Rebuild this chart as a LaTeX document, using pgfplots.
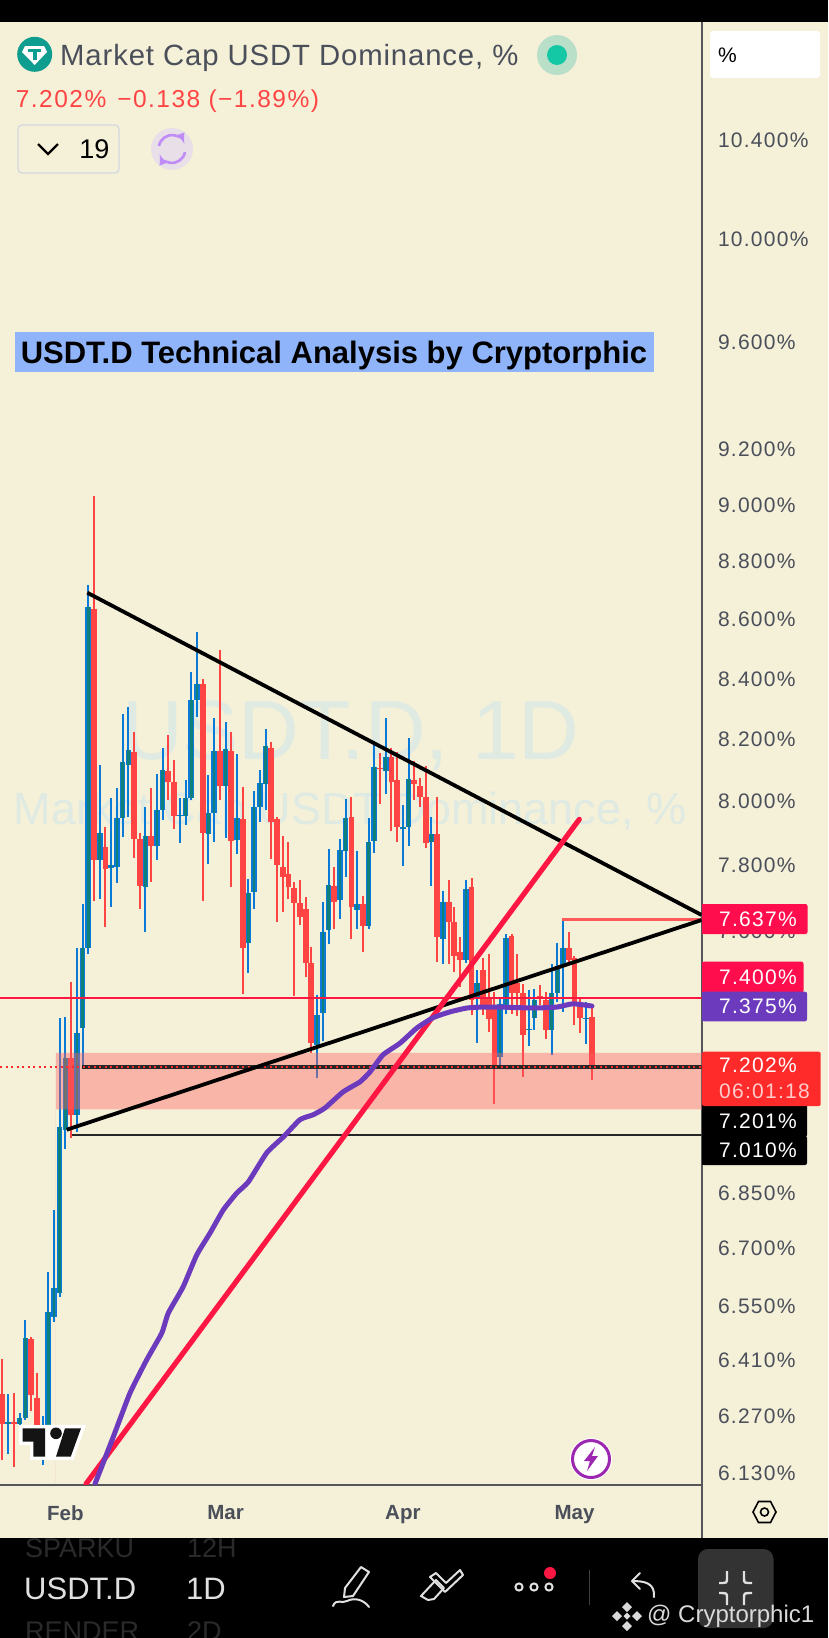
\documentclass[border=0pt]{standalone}
\usepackage{fontspec}
\usepackage{pgfplots}
\usepackage{pgfplotstable}
\pgfplotsset{compat=1.18}
\setmainfont{Liberation Sans}
\newfontfamily\tvfont[LetterSpace=6]{Liberation Sans}
\newfontfamily\tvtitle[LetterSpace=3]{Liberation Sans}

\definecolor{chartbg}{HTML}{F5F0D8}
\definecolor{tvblue}{HTML}{0A7AD8}
\definecolor{tvteal}{HTML}{0F7F7A}
\definecolor{tvred}{HTML}{FF4444}
\definecolor{lineRed}{HTML}{FF1744}
\definecolor{emaPurple}{HTML}{6C3BBD}
\definecolor{scaleGrey}{HTML}{4A4F5A}
\definecolor{axisGrey}{HTML}{55565A}
\definecolor{markBg}{HTML}{DFEAE3}
\definecolor{zoneRed}{HTML}{FF5F60}
\definecolor{tagRed}{HTML}{FF0D4D}
\definecolor{lastRed}{HTML}{FF2A2A}
\definecolor{banner}{HTML}{8FB4F9}
\definecolor{ghost}{HTML}{2A2A2A}
\definecolor{tether}{HTML}{0E9D8E}

% day (Feb 1 = 0), low, body bottom, body top, high in %
\pgfplotstableread{
d low bot top high
-9 6.175 6.251 6.254 6.324
-7 6.247 6.250 6.265 6.277
-6 6.260 6.265 6.466 6.513
-3 6.149 6.230 6.235 6.270
-2 6.247 6.247 6.534 6.639
-1 6.508 6.521 6.597 6.804
0 6.573 6.583 7.032 7.343
1 6.971 7.024 7.227 7.346
3 7.018 7.066 7.299 7.550
4 7.201 7.314 7.550 7.683
5 7.532 7.550 8.644 8.717
7 7.698 7.818 7.902 8.118
9 7.674 7.793 7.803 8.013
10 7.747 7.796 7.950 8.045
11 7.890 7.950 8.128 8.285
12 7.953 8.118 8.167 8.307
15 7.598 7.735 7.893 7.984
17 7.818 7.861 7.975 8.090
18 7.943 7.975 8.103 8.173
21 7.871 7.956 7.959 8.013
22 7.928 7.956 8.013 8.070
23 8.006 8.013 8.330 8.424
24 8.275 8.330 8.384 8.559
26 7.806 7.899 7.965 8.086
27 7.875 7.965 8.163 8.272
29 7.887 8.051 8.170 8.258
31 7.837 7.880 7.950 8.154
33 7.475 7.565 7.716 7.760
34 7.667 7.719 7.984 8.035
35 7.937 7.984 8.061 8.102
36 7.975 8.058 8.180 8.235
45 7.170 7.265 7.352 7.410
46 7.276 7.358 7.598 7.689
47 7.560 7.604 7.741 7.852
49 7.637 7.695 7.849 7.884
50 7.766 7.846 7.950 8.009
52 7.607 7.665 7.683 7.846
54 7.607 7.616 7.875 7.950
55 7.840 7.877 8.112 8.196
57 8.025 8.099 8.144 8.272
60 7.800 7.915 7.921 7.990
61 7.861 7.921 8.074 8.206
65 7.738 7.875 7.899 7.953
67 7.502 7.578 7.689 7.722
71 7.505 7.514 7.729 7.756
73 7.270 7.401 7.446 7.484
77 7.195 7.230 7.384 7.404
78 7.355 7.381 7.580 7.592
82 7.262 7.308 7.311 7.425
83 7.308 7.343 7.395 7.428
86 7.236 7.308 7.416 7.502
87 7.389 7.416 7.496 7.565
88 7.360 7.499 7.550 7.640
92 7.268 7.340 7.343 7.389
}\upcandles

\pgfplotstableread{
d low bot top high
-10 6.161 6.250 6.324 6.413
-8 6.144 6.251 6.254 6.327
-5 6.282 6.322 6.464 6.469
-4 6.235 6.247 6.314 6.378
2 7.001 7.066 7.227 7.449
6 7.692 7.818 8.637 9.033
8 7.613 7.790 7.858 7.921
13 7.824 7.884 8.160 8.226
14 7.667 7.738 7.884 7.902
16 7.750 7.861 7.893 8.045
19 8.006 8.064 8.099 8.216
20 7.915 7.956 8.064 8.135
25 7.692 7.902 8.384 8.400
28 8.006 8.051 8.163 8.497
30 7.735 7.877 8.163 8.226
32 7.413 7.550 7.946 8.048
37 7.821 7.937 8.173 8.192
38 7.628 7.803 7.946 7.953
39 7.658 7.766 7.796 7.893
40 7.698 7.735 7.775 7.875
41 7.407 7.686 7.732 7.750
42 7.619 7.643 7.686 7.756
43 7.463 7.505 7.667 7.704
44 7.241 7.270 7.505 7.553
48 7.607 7.689 7.738 7.796
51 7.577 7.674 7.953 8.016
53 7.538 7.616 7.683 7.707
56 7.994 8.106 8.109 8.157
58 7.909 8.064 8.144 8.173
59 7.875 7.921 8.070 8.160
62 8.006 8.058 8.070 8.131
63 7.984 8.016 8.051 8.077
64 7.855 7.871 8.016 8.115
66 7.508 7.584 7.899 8.016
68 7.502 7.628 7.689 7.756
69 7.478 7.526 7.628 7.674
70 7.434 7.514 7.538 7.583
72 7.352 7.395 7.735 7.763
74 7.352 7.375 7.484 7.520
75 7.302 7.340 7.402 7.532
76 7.096 7.201 7.372 7.419
79 7.355 7.416 7.585 7.592
80 7.349 7.416 7.446 7.532
81 7.173 7.294 7.416 7.443
84 7.381 7.404 7.407 7.440
85 7.282 7.308 7.395 7.419
89 7.499 7.514 7.550 7.599
90 7.323 7.389 7.520 7.526
91 7.299 7.343 7.386 7.401
93 7.165 7.202 7.346 7.381
}\downcandles

% wick from low to high, drawn as an error bar on the body top
\newcommand{\wicks}[2]{%
  \addplot[forget plot, draw=none, mark=none, error bars/.cd, y dir=both, y explicit,
    error mark=none, error bar style={draw=#2, line width=2pt}]
    table[x=d, y=top, y error plus expr=\thisrow{high}-\thisrow{top},
      y error minus expr=\thisrow{top}-\thisrow{low}] {#1};}
% candle body from bot to top
\newcommand{\bodies}[3]{%
  \addplot[forget plot, draw=none, mark=none, error bars/.cd, y dir=minus, y explicit,
    error mark=none, error bar style={draw=#2, line width=#3}]
    table[x=d, y=top, y error minus expr=\thisrow{top}-\thisrow{bot}] {#1};}

\newcommand{\pricetag}[5]{% right, top, bottom, colour, text
  \fill[#4, rounded corners=2pt] (702,#2) rectangle (#1,#3);
  \fill[#4] (702,#2) rectangle (710,#3);
  \node[anchor=west, inner sep=0pt, text=white, font=\tvfont\fontsize{21}{24}\selectfont]
    at (719,{(#2+#3)/2}) {#5};}

\begin{document}
\begin{tikzpicture}
\begin{scope}[x=1pt, y=-1pt]
  \fill[chartbg] (0,0) rectangle (828,1638);
  \fill[black] (0,0) rectangle (828,22);
  \fill[black] (0,1538) rectangle (828,1638);
  % watermark
  \node[inner sep=0pt, text=markBg, anchor=center] at (351,736)
    {\fontsize{84}{90}\selectfont USDT.D, 1D};
  \node[inner sep=0pt, text=markBg, anchor=center] at (350,813)
    {\fontsize{45}{50}\selectfont Market Cap USDT Dominance, \%};
\end{scope}

\begin{axis}[
    at={(0pt,-1485pt)}, anchor=south west,
    scale only axis, width=701.7pt, height=1463pt,
    ymode=log, xmin=-10.437, xmax=112.24, ymin=6.1005, ymax=10.9017,
    axis x line=bottom, axis y line=right,
    axis line style={draw=axisGrey, line width=1.8pt, -},
    tick style={draw=none}, minor tick num=0,
    unbounded coords=jump,
    xtick={1,29,60,90}, xticklabels={Feb,Mar,Apr,May},
    xticklabel style={font=\bfseries\fontsize{20.5}{24}\selectfont, text=scaleGrey, yshift=-15pt},
    ytick={6.13,6.27,6.41,6.55,6.7,6.85,7.6,7.8,8,8.2,8.4,8.6,8.8,9,9.2,9.6,10,10.4},
    yticklabels={6.130\%,6.270\%,6.410\%,6.550\%,6.700\%,6.850\%,7.600\%,7.800\%,8.000\%,8.200\%,8.400\%,8.600\%,8.800\%,9.000\%,9.200\%,9.600\%,10.000\%,10.400\%},
    yticklabel style={font=\tvfont\fontsize{21}{24}\selectfont, text=scaleGrey, anchor=west, inner sep=0pt, xshift=14pt},
  ]
  % candles
  \wicks{\upcandles}{tvblue}
  \wicks{\downcandles}{tvred}
  \bodies{\upcandles}{tvblue}{5.6pt}
  \bodies{\upcandles}{tvteal}{2.6pt}
  \bodies{\downcandles}{tvred}{5.8pt}

  % demand zone
  \addplot[forget plot, draw=none, fill=zoneRed, fill opacity=0.4]
    coordinates {(-0.65,7.242) (112.24,7.242) (112.24,7.0815) (-0.65,7.0815)} \closedcycle;

  % levels
  \addplot[forget plot, lineRed, line width=2pt] coordinates {(-10.437,7.4) (112.24,7.4)};
  \addplot[forget plot, black!85, line width=4pt] coordinates {(3.85,7.202) (112.24,7.202)};
  \addplot[forget plot, lastRed, line width=1.6pt, dash pattern=on 2pt off 3.5pt] coordinates {(-10.437,7.202) (112.24,7.202)};
  \addplot[forget plot, black!85, line width=1.7pt] coordinates {(2.1,7.01) (112.24,7.01)};
  \addplot[forget plot, color={rgb,255:red,255;green,90;blue,90}, line width=3pt] coordinates {(87.76,7.637) (112.24,7.637)};

  % trend lines
  \addplot[forget plot, black, line width=3.8pt] coordinates {(4.83,8.692) (112.24,7.649)};
  \addplot[forget plot, black, line width=3.8pt] coordinates {(1.22,7.024) (112.24,7.634)};
  \addplot[forget plot, lineRed, line width=5.2pt, line cap=round] coordinates {(4.6,6.103) (90.84,7.945)};

  % moving average
  \addplot[forget plot, emaPurple, line width=5pt, smooth, tension=0.3, line cap=round] coordinates {
    (6.17,6.103) (9.37,6.218) (12.29,6.327) (15.21,6.411) (17.83,6.479) (18.99,6.531)
    (21.56,6.599) (23.95,6.683) (26.28,6.742) (28.6,6.804) (30.94,6.849) (32.97,6.880)
    (36.19,6.960) (39.09,7.004) (42.01,7.052) (44.28,7.066) (46.38,7.085) (49.53,7.130)
    (52.5,7.159) (54.25,7.187) (56.52,7.236) (59.49,7.270) (62.46,7.314) (65.26,7.343)
    (68.23,7.361) (71.2,7.372) (74.0,7.375) (76.97,7.375) (82.74,7.372) (86.93,7.375)
    (89.74,7.384) (93.06,7.378)};
\end{axis}

\begin{scope}[x=1pt, y=-1pt]
  \draw[axisGrey, line width=1.8pt] (702,1485) -- (702,1538);

  % price tags
  \pricetag{807.5}{904}{934}{tagRed}{7.637\%}
  \pricetag{803.5}{961.7}{992.5}{tagRed}{7.400\%}
  \pricetag{807}{991.7}{1021.3}{emaPurple}{7.375\%}
  \pricetag{807}{1100}{1137}{black}{}
  \pricetag{807}{1136}{1165}{black}{7.010\%}
  \fill[lastRed, rounded corners=2pt] (702,1051.7) rectangle (820.7,1106);
  \node[anchor=west, inner sep=0pt, text=white, font=\tvfont\fontsize{21}{24}\selectfont] at (719,1065.5) {7.202\%};
  \node[anchor=west, inner sep=0pt, text=white!75!lastRed, font=\tvfont\fontsize{21}{24}\selectfont] at (719,1091) {06:01:18};
  \node[anchor=west, inner sep=0pt, text=white, font=\tvfont\fontsize{21}{24}\selectfont] at (719,1121.4) {7.201\%};

  % header
  \fill[white, rounded corners=3pt] (710,31) rectangle (820,78);
  \node[anchor=west, inner sep=0pt, text=black, font=\fontsize{21}{24}\selectfont] at (718,55) {\%};
  \fill[tether] (34.7,54.3) circle (17.5);
  \fill[white] (25,46) -- (44,46) -- (47,52) -- (34.7,65) -- (22,52) -- cycle;
  \fill[tether] (28,49) rectangle (41,51.5);
  \fill[tether] (33,50) rectangle (36.5,60);
  \node[anchor=west, inner sep=0pt, text=scaleGrey, font=\tvtitle\fontsize{29.3}{33}\selectfont] at (60,58) {Market Cap USDT Dominance, \%};
  \fill[color={rgb,255:red,185;green,223;blue,201}] (557,55) circle (20);
  \fill[color={rgb,255:red,20;green,199;blue,165}] (557,55) circle (10);
  \node[anchor=west, inner sep=0pt, text=tvred, font=\tvfont\fontsize{24.5}{28}\selectfont] at (15.7,101) {7.202\%\hspace{11pt}−0.138 (−1.89\%)};
  \draw[color={rgb,255:red,213;green,217;blue,224}, line width=1.4pt, rounded corners=4pt] (18,125) rectangle (119,173);
  \draw[black, line width=2.2pt] (38,144) -- (48,154) -- (58,144);
  \node[anchor=center, inner sep=0pt, text=black, font=\fontsize{27}{30}\selectfont] at (94.5,149) {19};
  \fill[color={rgb,255:red,232;green,223;blue,232}] (172,149) circle (21);
  \begin{scope}[color={rgb,255:red,192;green,140;blue,245}, line width=2.6pt]
    \draw[-latex] (159,146) arc[start angle=-170, end angle=-20, radius=13.2];
    \draw[-latex] (185,152) arc[start angle=10, end angle=160, radius=13.2];
  \end{scope}

  % title banner
  \fill[banner] (14.6,332) rectangle (654,372);
  \node[anchor=center, inner sep=0pt, text=black, font=\bfseries\fontsize{31}{34}\selectfont] at (334,355) {USDT.D Technical Analysis by Cryptorphic};

  % TradingView logo
  \begin{scope}[white, line width=7pt, line join=miter]
    \fill[white, draw=white] (22.7,1428.3) -- (45,1428.3) -- (45,1456.7) -- (33.3,1456.7) -- (33.3,1441.7) -- (22.7,1441.7) -- cycle;
    \fill[white, draw=white] (48,1428.3) -- (81,1428.3) -- (70.7,1456.7) -- (48,1456.7) -- cycle;
  \end{scope}
  \fill[black!92] (22.7,1428.3) -- (45,1428.3) -- (45,1456.7) -- (33.3,1456.7) -- (33.3,1441.7) -- (22.7,1441.7) -- cycle;
  \fill[black!92] (56,1433.3) circle (5.8);
  \fill[black!92] (65,1428.3) -- (81,1428.3) -- (70.7,1456.7) -- (56,1456.7) -- cycle;

  % bolt button
  \fill[white] (591,1459) circle (21);
  \draw[color={rgb,255:red,156;green,39;blue,176}, line width=3pt] (591,1459) circle (18.5);
  \fill[color={rgb,255:red,156;green,39;blue,176}] (595,1447) -- (584,1461) -- (590,1461) -- (587,1471) -- (598,1456) -- (592,1456) -- cycle;

  % settings hexagon
  \draw[black, line width=1.6pt] (753,1512) -- (758.5,1501.5) -- (770.5,1501.5) -- (776,1512) -- (770.5,1522.5) -- (758.5,1522.5) -- cycle;
  \draw[black, line width=1.6pt] (764.5,1512) circle (4);

  % footer
  \node[anchor=west, inner sep=0pt, text=ghost, font=\fontsize{27}{30}\selectfont] at (25,1548) {SPARKU};
  \node[anchor=west, inner sep=0pt, text=ghost, font=\fontsize{27}{30}\selectfont] at (187,1548) {12H};
  \node[anchor=west, inner sep=0pt, text=white!88!black, font=\fontsize{31}{34}\selectfont] at (24,1589) {USDT.D};
  \node[anchor=west, inner sep=0pt, text=white!88!black, font=\fontsize{31}{34}\selectfont] at (186,1589) {1D};
  \begin{scope}
    \clip (0,1600) rectangle (828,1638);
    \node[anchor=west, inner sep=0pt, text=ghost, font=\fontsize{27}{30}\selectfont] at (25,1631) {RENDER};
    \node[anchor=west, inner sep=0pt, text=ghost, font=\fontsize{27}{30}\selectfont] at (187,1631) {2D};
  \end{scope}
  \begin{scope}[white!88!black, line width=2pt, line join=round, line cap=round]
    % pencil
    \draw (361,1567) -- (369,1572) -- (353,1596) -- (344,1597) -- (345,1588) -- cycle;
    \draw (333,1606) .. controls (336,1598) and (342,1604) .. (347,1601) .. controls (355,1597) and (364,1600) .. (369,1607);
    % drawings
    \draw (421,1596) -- (436,1580) -- (444,1588) -- (434,1599) -- (428,1600) -- cycle;
    \draw (430,1577) -- (445,1592) -- (463,1575) -- (460,1570) -- (446,1583) -- (436,1573) -- cycle;
    % dots
    \draw (519,1587) circle (3.6); \draw (534,1587) circle (3.6); \draw (549,1587) circle (3.6);
    % undo
    \draw (654,1597) .. controls (655,1583) and (645,1581) .. (632,1581);
    \draw (640,1573) -- (632,1581) -- (640,1589);
  \end{scope}
  \fill[lineRed] (550,1573) circle (6);
  \draw[white!25!black, line width=1pt] (589,1570) -- (589,1605);
  \fill[white!20!black, rounded corners=10pt] (698,1549) rectangle (773.5,1628);
  \begin{scope}[white!88!black, line width=2.4pt]
    \draw (727,1571) -- (727,1578) .. controls (727,1583) .. (719,1583);
    \draw (744,1571) -- (744,1578) .. controls (744,1583) .. (752,1583);
    \draw (727,1605) -- (727,1598) .. controls (727,1593) .. (719,1593);
    \draw (744,1605) -- (744,1598) .. controls (744,1593) .. (752,1593);
  \end{scope}
  % Binance mark and watermark
  \begin{scope}[white!85!black, yshift=-4pt]
    \fill (627,1598) -- (632,1603) -- (627,1608) -- (622,1603) -- cycle;
    \fill (617,1607) -- (622,1612) -- (617,1617) -- (612,1612) -- cycle;
    \fill (637,1607) -- (642,1612) -- (637,1617) -- (632,1612) -- cycle;
    \fill (627,1608.5) -- (630.5,1612) -- (627,1615.5) -- (623.5,1612) -- cycle;
    \fill (627,1617) -- (632,1622) -- (627,1627) -- (622,1622) -- cycle;
  \end{scope}
  \node[anchor=west, inner sep=0pt, text=white!85!black, font=\fontsize{24}{28}\selectfont] at (647,1616) {@ Cryptorphic1};
  % page is exactly the screenshot, whatever the thick lines add
  \pgfresetboundingbox
  \path[use as bounding box] (0,0) rectangle (828,1638);
\end{scope}
\end{tikzpicture}
\end{document}
